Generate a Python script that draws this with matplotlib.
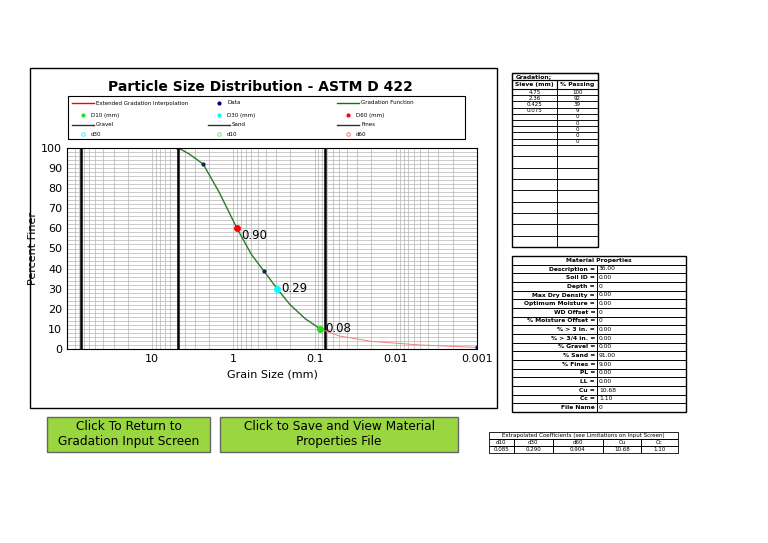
import matplotlib
matplotlib.use("Agg")
import matplotlib.pyplot as plt
from matplotlib.patches import Rectangle
import numpy as np

# ---- data ----
sieve_mm = ["4.75", "2.36", "0.425", "0.075", "", "", "", "", ""]
pct_pass = ["100", "92", "39", "9", "0", "0", "0", "0", "0"]
data_x = [4.75, 2.36, 0.425, 0.001]
data_y = [100, 92, 39, 1]
grad_x = [4.75, 3.5, 2.36, 1.5, 0.904, 0.6, 0.425, 0.29, 0.2, 0.13, 0.085]
grad_y = [100, 97, 92, 78, 60, 47, 39, 30, 22, 15, 10]
ext_x = [0.085, 0.05, 0.02, 0.005, 0.001]
ext_y = [10, 6.5, 3.8, 2.0, 0.8]
d_vals = {"D60": (0.904, 60), "D30": (0.29, 30), "D10": (0.085, 10)}
d_labels = {"D60": "0.90", "D30": "0.29", "D10": "0.08"}
bounds = {"Gravel": 75.0, "Sand": 4.75, "Fines": 0.075}
mat_labels = ["Description =", "Soil ID =", "Depth =", "Max Dry Density =", "Optimum Moisture =",
              "WD Offset =", "% Moisture Offset =", "% > 3 in. =", "% > 3/4 in. =", "% Gravel =",
              "% Sand =", "% Fines =", "PL =", "LL =", "Cu =", "Cc =", "File Name"]
mat_values = ["36.00", "0.00", "0", "0.00", "0.00", "0", "0", "0.00", "0.00", "0.00",
              "91.00", "9.00", "0.00", "0.00", "10.68", "1.10", "0"]
coef_names = ["d10", "d30", "d60", "Cu", "Cc"]
coef_vals = ["0.085", "0.290", "0.904", "10.68", "1.10"]

W, H = 768, 543
fig = plt.figure(figsize=(W/100, H/100), dpi=100)
bg = fig.add_axes([0, 0, 1, 1])
bg.set_xlim(0, W); bg.set_ylim(H, 0); bg.axis("off")

def rect(x0, y0, x1, y1, lw=0.8, fc="none", ec="black", z=1):
    bg.add_patch(Rectangle((x0, y0), x1-x0, y1-y0, fc=fc, ec=ec, lw=lw, zorder=z))

def txt(x, y, s, fs=4.3, ha="center", **kw):
    bg.text(x, y, s, fontsize=fs, ha=ha, va="center", family="DejaVu Sans", **kw)

# chart frame
rect(30, 68, 497, 408, lw=1.0)
bg.text(260, 87, "Particle Size Distribution - ASTM D 422", fontsize=10, weight="bold",
        ha="center", va="center")
# legend
rect(68, 96, 465, 139, lw=0.8)
cols = [82, 218, 347]
rows = [103, 115, 125, 134]
leg = [
    [("line", "red", "Extended Gradation Interpolation"), ("dot", "navy", "Data"), ("line", "green", "Gradation Function")],
    [("dot", "#22dd22", "D10 (mm)"), ("dot", "cyan", "D30 (mm)"), ("dot", "red", "D60 (mm)")],
    [("line", "#333333", "Gravel"), ("line", "#333333", "Sand"), ("line", "#333333", "Fines")],
    [("odot", "cyan", "d30"), ("odot", "#66dd66", "d10"), ("odot", "#ee6666", "d60")],
]
for r, row in zip(rows, leg):
    for c, (kind, col, lab) in zip(cols, row):
        if kind == "line":
            bg.plot([c-10, c+12], [r, r], color=col, lw=1)
        elif kind == "dot":
            bg.plot([c+1], [r], "o", color=col, ms=2)
        else:
            bg.plot([c+1], [r], "o", mfc="none", mec=col, ms=2.5, mew=0.6)
        txt(c+14 if kind == "line" else c+9, r, lab, fs=4, ha="left")

# main plot
ax = fig.add_axes([67/W, 1-349/H, (477-67)/W, (349-148)/H])
ax.set_xscale("log")
ax.set_xlim(10**2.05, 0.001)
ax.set_ylim(0, 100)
ax.set_yticks(range(0, 101, 10))
ax.set_yticks(range(0, 101, 2), minor=True)
ax.grid(True, which="both", color="#b5b5b5", lw=0.5)
ax.set_xticks([10, 1, 0.1, 0.01, 0.001])
ax.set_xticklabels(["10", "1", "0.1", "0.01", "0.001"])
ax.tick_params(which="minor", labelbottom=False, length=0)
ax.tick_params(labelsize=8, length=0)
for s in ax.spines.values():
    s.set_linewidth(0.8)
for v in bounds.values():
    ax.axvline(v, color="black", lw=1.8)
ax.plot(ext_x, ext_y, color="#f08080", lw=0.7)
ax.plot(grad_x, grad_y, color="#2a7a2a", lw=1)
ax.plot(data_x, data_y, "o", color="#102050", ms=2)
dcol = {"D60": "red", "D30": "cyan", "D10": "#22dd22"}
for k, (x, y) in d_vals.items():
    ax.plot([x], [y], "o", color=dcol[k], ms=4, zorder=5)
    ax.text(x*0.88, y-3.5 if k == "D60" else y, d_labels[k], fontsize=8.5, va="center", ha="left")
ax.set_xlabel("Grain Size (mm)", fontsize=8, labelpad=4)
ax.set_ylabel("Percent Finer", fontsize=8, labelpad=2)

# gradation table
x0, xm, x1 = 512, 557, 598
rect(x0, 73, x1, 80); txt(x0+4, 76.5, "Gradation;", ha="left", weight="bold")
rect(x0, 80, xm, 89); rect(xm, 80, x1, 89)
txt((x0+xm)/2, 84.5, "Sieve (mm)", weight="bold"); txt((xm+x1)/2, 84.5, "% Passing", weight="bold")
y = 89
for s, p in zip(sieve_mm, pct_pass):
    rect(x0, y, xm, y+6.2, lw=0.5); rect(xm, y, x1, y+6.2, lw=0.5)
    txt((x0+xm)/2, y+3.1, s, fs=4); txt((xm+x1)/2, y+3.1, p, fs=4)
    y += 6.2
n_extra = 9
step = (247-y)/n_extra
for i in range(n_extra):
    rect(x0, y, xm, y+step, lw=0.5); rect(xm, y, x1, y+step, lw=0.5)
    y += step
rect(x0, 73, x1, 247, lw=1)

# material properties
mx0, mxm, mx1 = 512, 597, 686
top, bot = 256, 412
rh = (bot-top)/(len(mat_labels)+1)
rect(mx0, top, mx1, top+rh, lw=0.6)
txt((mx0+mx1)/2, top+rh/2, "Material Properties", weight="bold")
for i, (l, v) in enumerate(zip(mat_labels, mat_values)):
    yy = top + rh*(i+1)
    rect(mx0, yy, mxm, yy+rh, lw=0.6); rect(mxm, yy, mx1, yy+rh, lw=0.6)
    txt(mxm-2, yy+rh/2, l, ha="right", weight="bold")
    txt(mxm+2, yy+rh/2, v, ha="left")
rect(mx0, top, mx1, bot, lw=1)

# buttons
for (a, b, lab) in [(47, 210, "Click To Return to\nGradation Input Screen"),
                    (220, 458, "Click to Save and View Material\nProperties File")]:
    rect(a, 417, b, 452, fc="#99d63f", ec="#666666", lw=1)
    bg.text((a+b)/2, 434.5, lab, fontsize=8.7, ha="center", va="center", linespacing=1.2)

# coefficients table
cx = [489, 514, 553, 603, 641, 678]
rect(cx[0], 432, cx[-1], 439, lw=0.6)
txt((cx[0]+cx[-1])/2, 435.5, "Extrapolated Coefficients (see Limitations on Input Screen)", fs=4)
for i in range(5):
    rect(cx[i], 439, cx[i+1], 446, lw=0.6); rect(cx[i], 446, cx[i+1], 453, lw=0.6)
    txt((cx[i]+cx[i+1])/2, 442.5, coef_names[i], fs=4)
    txt((cx[i]+cx[i+1])/2, 449.5, coef_vals[i], fs=4)

fig.savefig("out.png", dpi=100)
